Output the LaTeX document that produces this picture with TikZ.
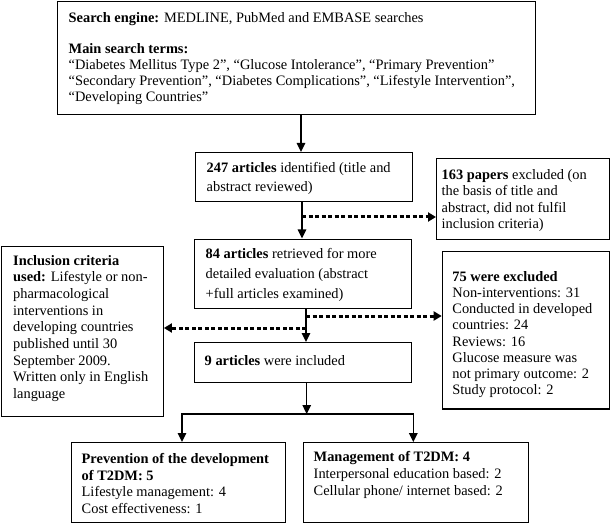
\documentclass[tikz,border=0pt]{standalone}
\usepackage{fontspec}
\setmainfont{Liberation Serif}
\usetikzlibrary{arrows.meta}
% name, x, y, width, height, top pad, left pad, line pitch, lines
\newcommand\boxnode[9]{\node[boxs] (#1) at (#2,#3) {\parbox[t][#5bp][t]{#4bp}{\vspace*{#6bp}\hspace*{#7bp}\fontsize{14.4bp}{#8bp}\selectfont\begin{tabular}[t]{@{}l@{}}#9\end{tabular}}};}
\tikzset{
  boxs/.style={draw, line width=1.4bp, inner sep=0pt, anchor=north west},
  arr/.style={line width=1.4bp, -{Triangle[length=9bp,width=8.5bp]}},
  dsh/.style={line width=3bp, dash pattern=on 4bp off 2.5bp, -{Triangle[length=8bp,width=9bp]}},
  brl/.style={line width=1.4bp, {Triangle[length=9bp,width=8.5bp]}-{Triangle[length=9bp,width=8.5bp]}}
}
\begin{document}
\begin{tikzpicture}[x=1bp,y=-1bp]
\useasboundingbox (0,0) rectangle (611,523);

\boxnode{top}{57}{1}{478}{113}{9.8}{11}{16}{%
\textbf{Search engine:} MEDLINE, PubMed and EMBASE searches\\[14.5bp]
\textbf{Main search terms:}\\
“Diabetes Mellitus Type 2”, “Glucose Intolerance”, “Primary Prevention”\\
“Secondary Prevention”, “Diabetes Complications”, “Lifestyle Intervention”,\\
“Developing Countries”}

\boxnode{b247}{195}{152}{216.5}{49}{6.2}{11}{19.4}{%
\textbf{247 articles} identified (title and\\
abstract reviewed)}

\boxnode{b163}{436}{158}{172.5}{81}{9.3}{5}{16.4}{%
\textbf{163 papers} excluded (on\\
the basis of title and\\
abstract, did not fulfil\\
inclusion criteria)}

\boxnode{b84}{193.5}{238.5}{217.5}{69}{5.3}{11.5}{20}{%
\textbf{84 articles} retrieved for more\\
detailed evaluation (abstract\\
+full articles examined)}

\boxnode{incl}{1}{246}{161.5}{169.5}{6.8}{11.5}{16.67}{%
\textbf{Inclusion criteria}\\
\textbf{used:} Lifestyle or non-\\
pharmacological\\
interventions in\\
developing countries\\
published until 30\\
September 2009.\\
Written only in English\\
language}

\boxnode{b75}{441.7}{251}{166.8}{157.3}{18.2}{10}{16.2}{%
\textbf{75 were excluded}\\
Non-interventions: 31\\
Conducted in developed\\
countries: 24\\
Reviews: 16\\
Glucose measure was\\
not primary outcome: 2\\
Study protocol: 2}

\boxnode{b9}{194}{342}{217}{40}{10.8}{10}{16.67}{%
\textbf{9 articles} were included}

\boxnode{bl}{71}{442}{214}{80}{9.1}{10}{16.7}{%
\textbf{Prevention of the development}\\
\textbf{of T2DM: 5}\\
Lifestyle management: 4\\
Cost effectiveness: 1}

\boxnode{br}{302.5}{442}{225.5}{80}{7.3}{10.5}{17}{%
\textbf{Management of T2DM: 4}\\
Interpersonal education based: 2\\
Cellular phone/ internet based: 2}

% guide coordinates
\coordinate (c1) at (301,0);
\coordinate (c2) at (302,0);
\coordinate (c3) at (306,0);
\coordinate (c4) at (306.7,0);
\coordinate (c5) at (182,0);
\coordinate (c6) at (413.3,0);
\coordinate (d1) at (0,217);
\coordinate (d2) at (0,316);
\coordinate (d3) at (0,328);
\coordinate (h1) at (0,414);

\draw[arr] (top.south -| c1) -- (b247.north -| c1);
\draw[arr] (b247.south -| c2) -- (b84.north -| c2);
\draw[dsh] (c2 |- d1) -- (b163.west |- d1);
\draw[arr] (b84.south -| c3) -- (b9.north -| c3);
\draw[dsh] (c3 |- d2) -- (b75.west |- d2);
\draw[dsh] (c3 |- d3) -- (incl.east |- d3);
\draw[arr] (b9.south -| c4) -- (c4 |- h1);
\draw[brl] (bl.north -| c5) -- (c5 |- h1) -- (c6 |- h1) -- (br.north -| c6);
\end{tikzpicture}
\end{document}
